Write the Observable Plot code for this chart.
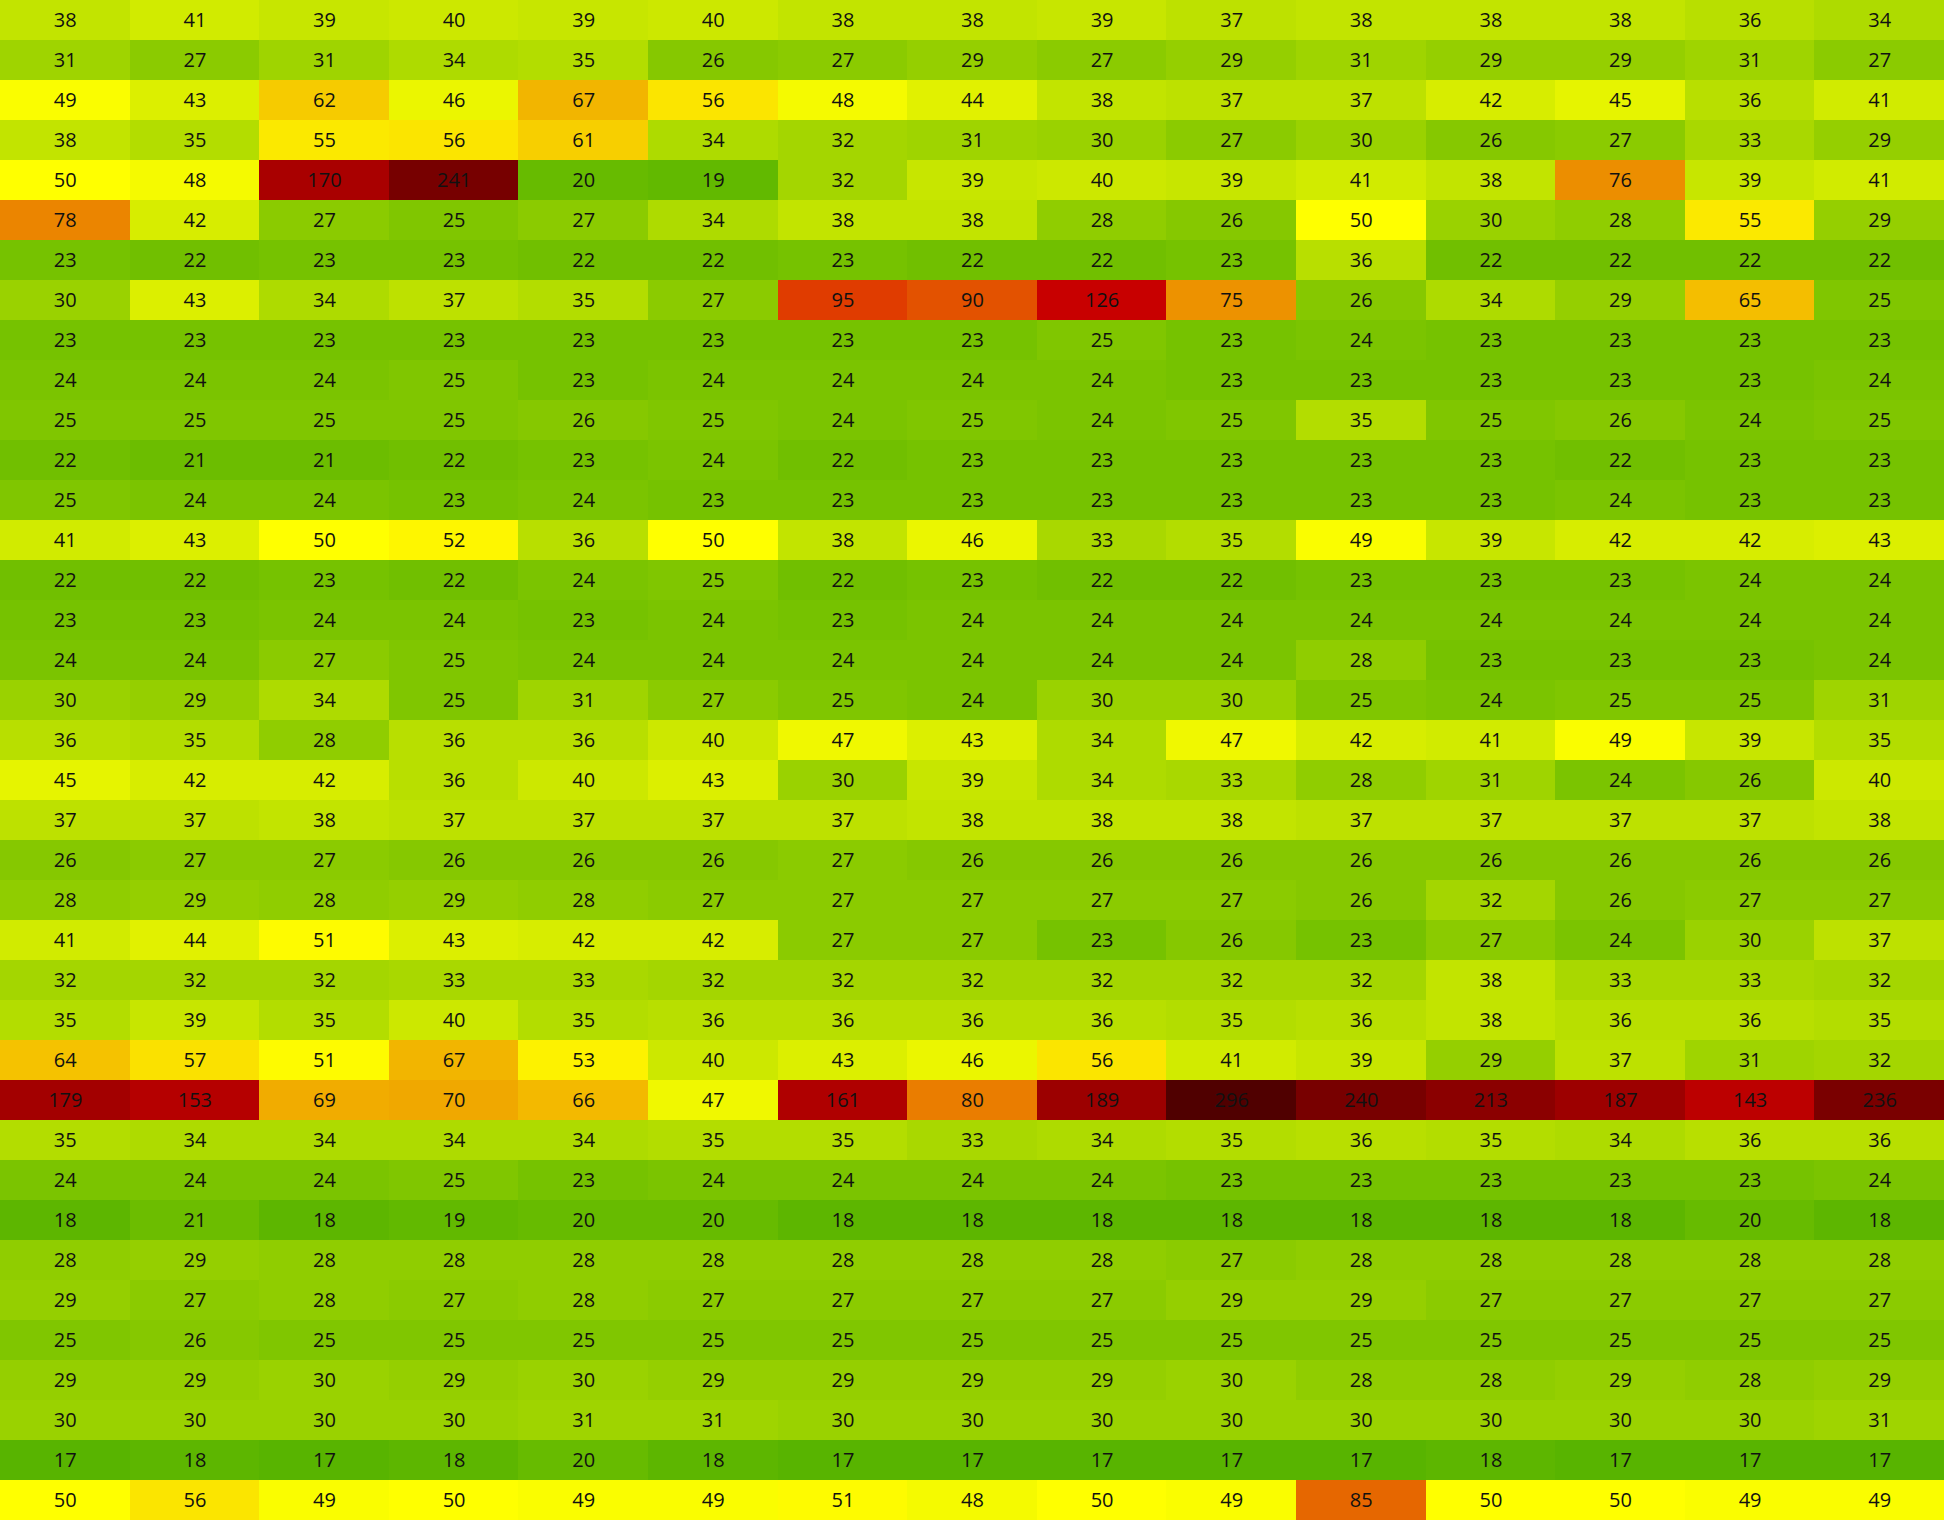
<!DOCTYPE html>
<html>
<head>
<meta charset="utf-8">
<script src="https://cdn.jsdelivr.net/npm/d3@7"></script>
<script src="https://cdn.jsdelivr.net/npm/@observablehq/plot@0.6"></script>
<style>
  html, body { margin: 0; padding: 0; background: #fff; }
  #chart svg { display: block; }
</style>
</head>
<body>
<div id="chart"></div>
<script>
const columns = ["C1","C2","C3","C4","C5","C6","C7","C8","C9","C10","C11","C12","C13","C14","C15"];
const rowLabels = Array.from({length: 38}, (_, i) => "R" + (i + 1));
const values = [
  [38,41,39,40,39,40,38,38,39,37,38,38,38,36,34],
  [31,27,31,34,35,26,27,29,27,29,31,29,29,31,27],
  [49,43,62,46,67,56,48,44,38,37,37,42,45,36,41],
  [38,35,55,56,61,34,32,31,30,27,30,26,27,33,29],
  [50,48,170,241,20,19,32,39,40,39,41,38,76,39,41],
  [78,42,27,25,27,34,38,38,28,26,50,30,28,55,29],
  [23,22,23,23,22,22,23,22,22,23,36,22,22,22,22],
  [30,43,34,37,35,27,95,90,126,75,26,34,29,65,25],
  [23,23,23,23,23,23,23,23,25,23,24,23,23,23,23],
  [24,24,24,25,23,24,24,24,24,23,23,23,23,23,24],
  [25,25,25,25,26,25,24,25,24,25,35,25,26,24,25],
  [22,21,21,22,23,24,22,23,23,23,23,23,22,23,23],
  [25,24,24,23,24,23,23,23,23,23,23,23,24,23,23],
  [41,43,50,52,36,50,38,46,33,35,49,39,42,42,43],
  [22,22,23,22,24,25,22,23,22,22,23,23,23,24,24],
  [23,23,24,24,23,24,23,24,24,24,24,24,24,24,24],
  [24,24,27,25,24,24,24,24,24,24,28,23,23,23,24],
  [30,29,34,25,31,27,25,24,30,30,25,24,25,25,31],
  [36,35,28,36,36,40,47,43,34,47,42,41,49,39,35],
  [45,42,42,36,40,43,30,39,34,33,28,31,24,26,40],
  [37,37,38,37,37,37,37,38,38,38,37,37,37,37,38],
  [26,27,27,26,26,26,27,26,26,26,26,26,26,26,26],
  [28,29,28,29,28,27,27,27,27,27,26,32,26,27,27],
  [41,44,51,43,42,42,27,27,23,26,23,27,24,30,37],
  [32,32,32,33,33,32,32,32,32,32,32,38,33,33,32],
  [35,39,35,40,35,36,36,36,36,35,36,38,36,36,35],
  [64,57,51,67,53,40,43,46,56,41,39,29,37,31,32],
  [179,153,69,70,66,47,161,80,189,296,240,213,187,143,236],
  [35,34,34,34,34,35,35,33,34,35,36,35,34,36,36],
  [24,24,24,25,23,24,24,24,24,23,23,23,23,23,24],
  [18,21,18,19,20,20,18,18,18,18,18,18,18,20,18],
  [28,29,28,28,28,28,28,28,28,27,28,28,28,28,28],
  [29,27,28,27,28,27,27,27,27,29,29,27,27,27,27],
  [25,26,25,25,25,25,25,25,25,25,25,25,25,25,25],
  [29,29,30,29,30,29,29,29,29,30,28,28,29,28,29],
  [30,30,30,30,31,31,30,30,30,30,30,30,30,30,31],
  [17,18,17,18,20,18,17,17,17,17,17,18,17,17,17],
  [50,56,49,50,49,49,51,48,50,49,85,50,50,49,49]
];
const colorStops = [17, 50, 70, 95, 126, 296];
const colorRange = ["#58b400", "#ffff00", "#f0a800", "#e03c00", "#c80000", "#500000"];

const data = [];
values.forEach((row, i) => row.forEach((v, j) => data.push({row: rowLabels[i], col: columns[j], value: v})));

const chart = Plot.plot({
  width: 1944,
  height: 1520,
  margin: 0,
  x: {domain: columns, axis: null, padding: 0, round: false},
  y: {domain: rowLabels, axis: null, padding: 0, round: false},
  color: {type: "linear", domain: colorStops, range: colorRange, interpolate: "rgb"},
  style: {fontFamily: "'Open Sans', sans-serif", background: "#fff"},
  marks: [
    Plot.cell(data, {x: "col", y: "row", fill: "value", inset: 0, shapeRendering: "crispEdges"}),
    Plot.text(data, {x: "col", y: "row", text: d => String(d.value), fill: "#111", fontSize: 20})
  ]
});
document.getElementById("chart").appendChild(chart);
</script>
</body>
</html>
